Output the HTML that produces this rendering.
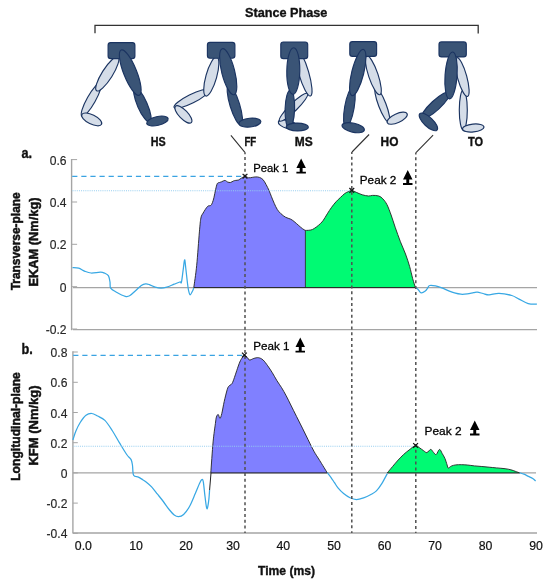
<!DOCTYPE html>
<html><head><meta charset="utf-8"><style>
html,body{margin:0;padding:0;background:#fff;}
body{width:550px;height:584px;overflow:hidden;}
svg{display:block;}
</style></head><body>
<svg width="550" height="584" viewBox="0 0 550 584">
<rect width="550" height="584" fill="#fff"/>
<path d="M95,33.3 L95,25.4 L478.2,25.4 L478.2,33.5" fill="none" stroke="#333" stroke-width="1.3"/>
<text x="245.1" y="17" font-family="Liberation Sans, sans-serif" font-weight="bold" font-size="12.8" textLength="82.3" lengthAdjust="spacingAndGlyphs" fill="#111" stroke="#111" stroke-width="0.35">Stance Phase</text>
<ellipse cx="91.25" cy="99.65" rx="19.10" ry="4.25" transform="rotate(119.32 91.25 99.65)" fill="#d5dde8" stroke="#1b3461" stroke-width="1.15"/>
<ellipse cx="91.7" cy="119.4" rx="11" ry="4.6" transform="rotate(26.5 91.7 119.4)" fill="#d5dde8" stroke="#1b3461" stroke-width="1.15"/>
<ellipse cx="107.30" cy="73.90" rx="20.00" ry="5.25" transform="rotate(122.34 107.30 73.90)" fill="#d5dde8" stroke="#1b3461" stroke-width="1.15"/>
<rect x="108.1" y="42.6" width="26.80000000000001" height="16.0" rx="2.6" fill="#3a5476" stroke="#1b3461" stroke-width="1.15"/>
<ellipse cx="142.40" cy="104.95" rx="18.72" ry="4.90" transform="rotate(66.38 142.40 104.95)" fill="#3a5476" stroke="#1b3461" stroke-width="1.15"/>
<ellipse cx="157.4" cy="121" rx="11" ry="4.4" transform="rotate(-13 157.4 121)" fill="#3a5476" stroke="#1b3461" stroke-width="1.15"/>
<ellipse cx="130.25" cy="72.60" rx="24.34" ry="6.50" transform="rotate(68.18 130.25 72.60)" fill="#3a5476" stroke="#1b3461" stroke-width="1.15"/>
<ellipse cx="191.30" cy="98.90" rx="19.23" ry="4.40" transform="rotate(153.43 191.30 98.90)" fill="#d5dde8" stroke="#1b3461" stroke-width="1.15"/>
<ellipse cx="183.4" cy="114.4" rx="11.4" ry="4.4" transform="rotate(46 183.4 114.4)" fill="#d5dde8" stroke="#1b3461" stroke-width="1.15"/>
<ellipse cx="211.30" cy="76.50" rx="20.26" ry="5.40" transform="rotate(105.75 211.30 76.50)" fill="#d5dde8" stroke="#1b3461" stroke-width="1.15"/>
<rect x="207.4" y="42.4" width="27.5" height="15.800000000000004" rx="2.6" fill="#3a5476" stroke="#1b3461" stroke-width="1.15"/>
<ellipse cx="234.85" cy="105.05" rx="20.78" ry="4.80" transform="rotate(72.79 234.85 105.05)" fill="#3a5476" stroke="#1b3461" stroke-width="1.15"/>
<ellipse cx="249.9" cy="122.6" rx="11" ry="4.4" transform="rotate(-6 249.9 122.6)" fill="#3a5476" stroke="#1b3461" stroke-width="1.15"/>
<ellipse cx="228.20" cy="71.70" rx="23.74" ry="6.50" transform="rotate(75.61 228.20 71.70)" fill="#3a5476" stroke="#1b3461" stroke-width="1.15"/>
<ellipse cx="288" cy="124.5" rx="10" ry="4" transform="rotate(15 288 124.5)" fill="#d5dde8" stroke="#1b3461" stroke-width="1.15"/>
<ellipse cx="293.50" cy="107.25" rx="19.62" ry="3.90" transform="rotate(135.52 293.50 107.25)" fill="#d5dde8" stroke="#1b3461" stroke-width="1.15"/>
<ellipse cx="303.75" cy="73.00" rx="23.97" ry="5.00" transform="rotate(73.64 303.75 73.00)" fill="#d5dde8" stroke="#1b3461" stroke-width="1.15"/>
<rect x="280.8" y="42" width="26.899999999999977" height="16.6" rx="2.6" fill="#3a5476" stroke="#1b3461" stroke-width="1.15"/>
<ellipse cx="289.85" cy="109.00" rx="19.01" ry="4.75" transform="rotate(91.66 289.85 109.00)" fill="#3a5476" stroke="#1b3461" stroke-width="1.15"/>
<ellipse cx="297.3" cy="127" rx="11" ry="3.9" transform="rotate(1 297.3 127)" fill="#3a5476" stroke="#1b3461" stroke-width="1.15"/>
<ellipse cx="293.30" cy="71.00" rx="23.30" ry="6.50" transform="rotate(90.98 293.30 71.00)" fill="#3a5476" stroke="#1b3461" stroke-width="1.15"/>
<ellipse cx="382.30" cy="104.85" rx="18.47" ry="3.75" transform="rotate(69.06 382.30 104.85)" fill="#d5dde8" stroke="#1b3461" stroke-width="1.15"/>
<ellipse cx="397.2" cy="118.2" rx="10.9" ry="4.4" transform="rotate(-24.4 397.2 118.2)" fill="#d5dde8" stroke="#1b3461" stroke-width="1.15"/>
<ellipse cx="373.35" cy="75.35" rx="20.43" ry="4.75" transform="rotate(71.30 373.35 75.35)" fill="#d5dde8" stroke="#1b3461" stroke-width="1.15"/>
<rect x="349.8" y="41.6" width="26.80000000000001" height="14.699999999999996" rx="2.6" fill="#3a5476" stroke="#1b3461" stroke-width="1.15"/>
<ellipse cx="349.40" cy="107.30" rx="20.21" ry="4.75" transform="rotate(99.98 349.40 107.30)" fill="#3a5476" stroke="#1b3461" stroke-width="1.15"/>
<ellipse cx="353.2" cy="127.7" rx="11.4" ry="4.5" transform="rotate(12.5 353.2 127.7)" fill="#3a5476" stroke="#1b3461" stroke-width="1.15"/>
<ellipse cx="357.75" cy="72.55" rx="23.76" ry="6.00" transform="rotate(104.01 357.75 72.55)" fill="#3a5476" stroke="#1b3461" stroke-width="1.15"/>
<ellipse cx="463.30" cy="110.00" rx="20.00" ry="4.00" transform="rotate(90.00 463.30 110.00)" fill="#d5dde8" stroke="#1b3461" stroke-width="1.15"/>
<ellipse cx="473.2" cy="128" rx="10.8" ry="3.9" transform="rotate(-6 473.2 128)" fill="#d5dde8" stroke="#1b3461" stroke-width="1.15"/>
<ellipse cx="462.15" cy="77.05" rx="20.08" ry="4.65" transform="rotate(74.54 462.15 77.05)" fill="#d5dde8" stroke="#1b3461" stroke-width="1.15"/>
<rect x="439" y="41.9" width="27.30000000000001" height="15.0" rx="2.6" fill="#3a5476" stroke="#1b3461" stroke-width="1.15"/>
<ellipse cx="435.65" cy="105.30" rx="19.28" ry="4.80" transform="rotate(137.21 435.65 105.30)" fill="#3a5476" stroke="#1b3461" stroke-width="1.15"/>
<ellipse cx="428.4" cy="121.9" rx="11.9" ry="4.6" transform="rotate(43.6 428.4 121.9)" fill="#3a5476" stroke="#1b3461" stroke-width="1.15"/>
<ellipse cx="451.05" cy="75.45" rx="23.51" ry="6.00" transform="rotate(94.02 451.05 75.45)" fill="#3a5476" stroke="#1b3461" stroke-width="1.15"/>
<text x="150.7" y="145.5" font-family="Liberation Sans, sans-serif" font-weight="bold" font-size="12" textLength="14.9" lengthAdjust="spacingAndGlyphs" fill="#111" stroke="#111" stroke-width="0.35">HS</text>
<text x="244.4" y="145.5" font-family="Liberation Sans, sans-serif" font-weight="bold" font-size="12" textLength="11.8" lengthAdjust="spacingAndGlyphs" fill="#111" stroke="#111" stroke-width="0.35">FF</text>
<text x="294.8" y="145.5" font-family="Liberation Sans, sans-serif" font-weight="bold" font-size="12" textLength="17.9" lengthAdjust="spacingAndGlyphs" fill="#111" stroke="#111" stroke-width="0.35">MS</text>
<text x="380.6" y="145.5" font-family="Liberation Sans, sans-serif" font-weight="bold" font-size="12" textLength="17.8" lengthAdjust="spacingAndGlyphs" fill="#111" stroke="#111" stroke-width="0.35">HO</text>
<text x="468" y="145.5" font-family="Liberation Sans, sans-serif" font-weight="bold" font-size="12" textLength="15.1" lengthAdjust="spacingAndGlyphs" fill="#111" stroke="#111" stroke-width="0.35">TO</text>
<path d="M230.9,135.3 L244.9,152.3 M369.1,134.5 L352,152 M433.1,135.1 L416,152.6" stroke="#333" stroke-width="1.1" fill="none"/>
<line x1="73" y1="287.6" x2="537" y2="287.6" stroke="#a5a5a5" stroke-width="1.4"/>
<line x1="73" y1="329.6" x2="537" y2="329.6" stroke="#a5a5a5" stroke-width="1.4"/>
<line x1="71.6" y1="159" x2="71.6" y2="330.2" stroke="#a5a5a5" stroke-width="1.4"/>
<line x1="71.6" y1="159.6" x2="77.1" y2="159.6" stroke="#a5a5a5" stroke-width="1"/>
<text x="66.5" y="164.6" text-anchor="end" font-family="Liberation Sans, sans-serif" font-size="12.1" fill="#262626" stroke="#262626" stroke-width="0.15">0.6</text>
<line x1="71.6" y1="202" x2="77.1" y2="202" stroke="#a5a5a5" stroke-width="1"/>
<text x="66.5" y="207.0" text-anchor="end" font-family="Liberation Sans, sans-serif" font-size="12.1" fill="#262626" stroke="#262626" stroke-width="0.15">0.4</text>
<line x1="71.6" y1="244.3" x2="77.1" y2="244.3" stroke="#a5a5a5" stroke-width="1"/>
<text x="66.5" y="249.3" text-anchor="end" font-family="Liberation Sans, sans-serif" font-size="12.1" fill="#262626" stroke="#262626" stroke-width="0.15">0.2</text>
<line x1="71.6" y1="286.7" x2="77.1" y2="286.7" stroke="#a5a5a5" stroke-width="1"/>
<text x="66.5" y="291.7" text-anchor="end" font-family="Liberation Sans, sans-serif" font-size="12.1" fill="#262626" stroke="#262626" stroke-width="0.15">0</text>
<line x1="71.6" y1="329" x2="77.1" y2="329" stroke="#a5a5a5" stroke-width="1"/>
<text x="66.5" y="334.0" text-anchor="end" font-family="Liberation Sans, sans-serif" font-size="12.1" fill="#262626" stroke="#262626" stroke-width="0.15">-0.2</text>
<line x1="73" y1="472.9" x2="536" y2="472.9" stroke="#a5a5a5" stroke-width="1.4"/>
<line x1="73" y1="533" x2="537" y2="533" stroke="#a5a5a5" stroke-width="1.4"/>
<line x1="72.9" y1="351.3" x2="72.9" y2="533.6" stroke="#a5a5a5" stroke-width="1.4"/>
<line x1="72.9" y1="352" x2="77.8" y2="352" stroke="#a5a5a5" stroke-width="1"/>
<text x="67.4" y="357.0" text-anchor="end" font-family="Liberation Sans, sans-serif" font-size="12.1" fill="#262626" stroke="#262626" stroke-width="0.15">0.8</text>
<line x1="72.9" y1="382.3" x2="77.8" y2="382.3" stroke="#a5a5a5" stroke-width="1"/>
<text x="67.4" y="387.3" text-anchor="end" font-family="Liberation Sans, sans-serif" font-size="12.1" fill="#262626" stroke="#262626" stroke-width="0.15">0.6</text>
<line x1="72.9" y1="412.5" x2="77.8" y2="412.5" stroke="#a5a5a5" stroke-width="1"/>
<text x="67.4" y="417.5" text-anchor="end" font-family="Liberation Sans, sans-serif" font-size="12.1" fill="#262626" stroke="#262626" stroke-width="0.15">0.4</text>
<line x1="72.9" y1="442.7" x2="77.8" y2="442.7" stroke="#a5a5a5" stroke-width="1"/>
<text x="67.4" y="447.7" text-anchor="end" font-family="Liberation Sans, sans-serif" font-size="12.1" fill="#262626" stroke="#262626" stroke-width="0.15">0.2</text>
<line x1="72.9" y1="472.9" x2="77.8" y2="472.9" stroke="#a5a5a5" stroke-width="1"/>
<text x="67.4" y="477.9" text-anchor="end" font-family="Liberation Sans, sans-serif" font-size="12.1" fill="#262626" stroke="#262626" stroke-width="0.15">0</text>
<line x1="72.9" y1="503.1" x2="77.8" y2="503.1" stroke="#a5a5a5" stroke-width="1"/>
<text x="67.4" y="508.1" text-anchor="end" font-family="Liberation Sans, sans-serif" font-size="12.1" fill="#262626" stroke="#262626" stroke-width="0.15">-0.2</text>
<line x1="72.9" y1="533.3" x2="77.8" y2="533.3" stroke="#a5a5a5" stroke-width="1"/>
<text x="67.4" y="538.3" text-anchor="end" font-family="Liberation Sans, sans-serif" font-size="12.1" fill="#262626" stroke="#262626" stroke-width="0.15">-0.4</text>
<text x="83.4" y="550.3" text-anchor="middle" font-family="Liberation Sans, sans-serif" font-size="12.3" fill="#111" stroke="#111" stroke-width="0.2">0.0</text>
<text x="136" y="550.3" text-anchor="middle" font-family="Liberation Sans, sans-serif" font-size="12.3" fill="#111" stroke="#111" stroke-width="0.2">10</text>
<text x="186" y="550.3" text-anchor="middle" font-family="Liberation Sans, sans-serif" font-size="12.3" fill="#111" stroke="#111" stroke-width="0.2">20</text>
<text x="233.1" y="550.3" text-anchor="middle" font-family="Liberation Sans, sans-serif" font-size="12.3" fill="#111" stroke="#111" stroke-width="0.2">30</text>
<text x="283.3" y="550.3" text-anchor="middle" font-family="Liberation Sans, sans-serif" font-size="12.3" fill="#111" stroke="#111" stroke-width="0.2">40</text>
<text x="334" y="550.3" text-anchor="middle" font-family="Liberation Sans, sans-serif" font-size="12.3" fill="#111" stroke="#111" stroke-width="0.2">50</text>
<text x="384.6" y="550.3" text-anchor="middle" font-family="Liberation Sans, sans-serif" font-size="12.3" fill="#111" stroke="#111" stroke-width="0.2">60</text>
<text x="435" y="550.3" text-anchor="middle" font-family="Liberation Sans, sans-serif" font-size="12.3" fill="#111" stroke="#111" stroke-width="0.2">70</text>
<text x="485.5" y="550.3" text-anchor="middle" font-family="Liberation Sans, sans-serif" font-size="12.3" fill="#111" stroke="#111" stroke-width="0.2">80</text>
<text x="536" y="550.3" text-anchor="middle" font-family="Liberation Sans, sans-serif" font-size="12.3" fill="#111" stroke="#111" stroke-width="0.2">90</text>
<text x="258" y="575" font-family="Liberation Sans, sans-serif" font-weight="bold" font-size="12" textLength="57" lengthAdjust="spacingAndGlyphs" fill="#111" stroke="#111" stroke-width="0.35">Time (ms)</text>
<text transform="translate(20.4,241.3) rotate(-90)" text-anchor="middle" font-family="Liberation Sans, sans-serif" font-weight="bold" font-size="12.6" textLength="98" lengthAdjust="spacingAndGlyphs" fill="#111" stroke="#111" stroke-width="0.5">Transverse-plane</text>
<text transform="translate(37.8,242) rotate(-90)" text-anchor="middle" font-family="Liberation Sans, sans-serif" font-weight="bold" font-size="13.2" textLength="89" lengthAdjust="spacingAndGlyphs" fill="#111" stroke="#111" stroke-width="0.5">EKAM (Nm/kg)</text>
<text transform="translate(20.4,426.5) rotate(-90)" text-anchor="middle" font-family="Liberation Sans, sans-serif" font-weight="bold" font-size="12.6" textLength="108.7" lengthAdjust="spacingAndGlyphs" fill="#111" stroke="#111" stroke-width="0.5">Longitudinal-plane</text>
<text transform="translate(37.8,425.5) rotate(-90)" text-anchor="middle" font-family="Liberation Sans, sans-serif" font-weight="bold" font-size="13.2" textLength="80" lengthAdjust="spacingAndGlyphs" fill="#111" stroke="#111" stroke-width="0.5">KFM (Nm/kg)</text>
<text x="21.4" y="158" font-family="Liberation Sans, sans-serif" font-weight="bold" font-size="14.8" textLength="10.6" lengthAdjust="spacingAndGlyphs" fill="#111" stroke="#111" stroke-width="0.35">a.</text>
<text x="21.4" y="354.2" font-family="Liberation Sans, sans-serif" font-weight="bold" font-size="14.8" textLength="11.3" lengthAdjust="spacingAndGlyphs" fill="#111" stroke="#111" stroke-width="0.35">b.</text>
<path d="M193.80,287.60 C194.28,283.88 195.77,274.58 196.70,265.30 C197.63,256.02 198.70,239.78 199.40,231.90 C200.10,224.02 200.28,221.13 200.90,218.00 C201.52,214.87 202.00,215.02 203.10,213.10 C204.20,211.18 206.23,207.77 207.50,206.50 C208.77,205.23 209.88,206.13 210.70,205.50 C211.52,204.87 211.85,204.07 212.40,202.70 C212.95,201.33 213.47,199.48 214.00,197.30 C214.53,195.12 215.05,191.88 215.60,189.60 C216.15,187.32 216.65,184.78 217.30,183.60 C217.95,182.42 218.78,182.80 219.50,182.50 C220.22,182.20 220.70,182.15 221.60,181.80 C222.50,181.45 223.90,180.37 224.90,180.40 C225.90,180.43 226.68,181.65 227.60,182.00 C228.52,182.35 229.40,182.68 230.40,182.50 C231.40,182.32 232.70,181.25 233.60,180.90 C234.50,180.55 234.98,180.55 235.80,180.40 C236.62,180.25 237.58,180.37 238.50,180.00 C239.42,179.63 240.20,178.82 241.30,178.20 C242.40,177.58 243.88,176.37 245.10,176.30 C246.32,176.23 247.42,177.62 248.60,177.80 C249.78,177.98 251.00,177.55 252.20,177.40 C253.40,177.25 254.60,176.90 255.80,176.90 C257.00,176.90 258.20,176.95 259.40,177.40 C260.60,177.85 261.90,178.43 263.00,179.60 C264.10,180.77 265.00,182.60 266.00,184.40 C267.00,186.20 268.12,188.42 269.00,190.40 C269.88,192.38 270.42,194.12 271.30,196.30 C272.18,198.48 273.30,201.30 274.30,203.50 C275.30,205.70 276.20,207.80 277.30,209.50 C278.40,211.20 279.50,212.40 280.90,213.70 C282.30,215.00 284.10,216.40 285.70,217.30 C287.30,218.20 289.10,218.40 290.50,219.10 C291.90,219.80 292.70,220.40 294.10,221.50 C295.50,222.60 297.50,224.50 298.90,225.70 C300.30,226.90 301.48,227.93 302.50,228.70 C303.52,229.47 304.58,230.03 305.00,230.30 L305,287.6 L193.8,287.6 Z" fill="#8080ff" stroke="none"/>
<path d="M193.80,287.60 C194.28,283.88 195.77,274.58 196.70,265.30 C197.63,256.02 198.70,239.78 199.40,231.90 C200.10,224.02 200.28,221.13 200.90,218.00 C201.52,214.87 202.00,215.02 203.10,213.10 C204.20,211.18 206.23,207.77 207.50,206.50 C208.77,205.23 209.88,206.13 210.70,205.50 C211.52,204.87 211.85,204.07 212.40,202.70 C212.95,201.33 213.47,199.48 214.00,197.30 C214.53,195.12 215.05,191.88 215.60,189.60 C216.15,187.32 216.65,184.78 217.30,183.60 C217.95,182.42 218.78,182.80 219.50,182.50 C220.22,182.20 220.70,182.15 221.60,181.80 C222.50,181.45 223.90,180.37 224.90,180.40 C225.90,180.43 226.68,181.65 227.60,182.00 C228.52,182.35 229.40,182.68 230.40,182.50 C231.40,182.32 232.70,181.25 233.60,180.90 C234.50,180.55 234.98,180.55 235.80,180.40 C236.62,180.25 237.58,180.37 238.50,180.00 C239.42,179.63 240.20,178.82 241.30,178.20 C242.40,177.58 243.88,176.37 245.10,176.30 C246.32,176.23 247.42,177.62 248.60,177.80 C249.78,177.98 251.00,177.55 252.20,177.40 C253.40,177.25 254.60,176.90 255.80,176.90 C257.00,176.90 258.20,176.95 259.40,177.40 C260.60,177.85 261.90,178.43 263.00,179.60 C264.10,180.77 265.00,182.60 266.00,184.40 C267.00,186.20 268.12,188.42 269.00,190.40 C269.88,192.38 270.42,194.12 271.30,196.30 C272.18,198.48 273.30,201.30 274.30,203.50 C275.30,205.70 276.20,207.80 277.30,209.50 C278.40,211.20 279.50,212.40 280.90,213.70 C282.30,215.00 284.10,216.40 285.70,217.30 C287.30,218.20 289.10,218.40 290.50,219.10 C291.90,219.80 292.70,220.40 294.10,221.50 C295.50,222.60 297.50,224.50 298.90,225.70 C300.30,226.90 301.48,227.93 302.50,228.70 C303.52,229.47 304.58,230.03 305.00,230.30" fill="none" stroke="#222" stroke-width="0.9" stroke-linejoin="round"/>
<path d="M305.00,230.30 C305.25,230.32 305.52,230.45 306.50,230.40 C307.48,230.35 309.62,230.32 310.90,230.00 C312.18,229.68 312.93,229.28 314.20,228.50 C315.47,227.72 317.05,226.57 318.50,225.30 C319.95,224.03 321.43,222.82 322.90,220.90 C324.37,218.98 325.85,216.07 327.30,213.80 C328.75,211.53 330.15,209.30 331.60,207.30 C333.05,205.30 334.53,203.43 336.00,201.80 C337.47,200.17 338.95,198.87 340.40,197.50 C341.85,196.13 343.43,194.55 344.70,193.60 C345.97,192.65 346.82,192.33 348.00,191.80 C349.18,191.27 350.43,190.32 351.80,190.40 C353.17,190.48 354.45,191.57 356.20,192.30 C357.95,193.03 360.25,194.18 362.30,194.80 C364.35,195.42 366.78,195.90 368.50,196.00 C370.22,196.10 370.88,195.40 372.60,195.40 C374.32,195.40 377.08,195.42 378.80,196.00 C380.52,196.58 381.53,197.45 382.90,198.90 C384.27,200.35 385.63,202.02 387.00,204.70 C388.37,207.38 389.73,211.23 391.10,215.00 C392.47,218.77 393.65,222.85 395.20,227.30 C396.75,231.75 398.68,237.25 400.40,241.70 C402.12,246.15 403.97,249.88 405.50,254.00 C407.03,258.12 408.40,262.28 409.60,266.40 C410.80,270.52 411.73,275.17 412.70,278.70 C413.67,282.23 414.95,286.12 415.40,287.60 L415.4,287.6 L305,287.6 Z" fill="#00fa73" stroke="none"/>
<path d="M305.00,230.30 C305.25,230.32 305.52,230.45 306.50,230.40 C307.48,230.35 309.62,230.32 310.90,230.00 C312.18,229.68 312.93,229.28 314.20,228.50 C315.47,227.72 317.05,226.57 318.50,225.30 C319.95,224.03 321.43,222.82 322.90,220.90 C324.37,218.98 325.85,216.07 327.30,213.80 C328.75,211.53 330.15,209.30 331.60,207.30 C333.05,205.30 334.53,203.43 336.00,201.80 C337.47,200.17 338.95,198.87 340.40,197.50 C341.85,196.13 343.43,194.55 344.70,193.60 C345.97,192.65 346.82,192.33 348.00,191.80 C349.18,191.27 350.43,190.32 351.80,190.40 C353.17,190.48 354.45,191.57 356.20,192.30 C357.95,193.03 360.25,194.18 362.30,194.80 C364.35,195.42 366.78,195.90 368.50,196.00 C370.22,196.10 370.88,195.40 372.60,195.40 C374.32,195.40 377.08,195.42 378.80,196.00 C380.52,196.58 381.53,197.45 382.90,198.90 C384.27,200.35 385.63,202.02 387.00,204.70 C388.37,207.38 389.73,211.23 391.10,215.00 C392.47,218.77 393.65,222.85 395.20,227.30 C396.75,231.75 398.68,237.25 400.40,241.70 C402.12,246.15 403.97,249.88 405.50,254.00 C407.03,258.12 408.40,262.28 409.60,266.40 C410.80,270.52 411.73,275.17 412.70,278.70 C413.67,282.23 414.95,286.12 415.40,287.60" fill="none" stroke="#222" stroke-width="0.9" stroke-linejoin="round"/>
<line x1="305.4" y1="230.3" x2="305.4" y2="287.6" stroke="#333" stroke-width="0.9"/>
<line x1="193.8" y1="287.6" x2="415.4" y2="287.6" stroke="#222" stroke-width="1"/>
<path d="M72.50,267.70 C73.53,267.78 76.70,267.63 78.70,268.20 C80.70,268.77 82.43,270.30 84.50,271.10 C86.57,271.90 88.43,272.83 91.10,273.00 C93.77,273.17 98.20,272.05 100.50,272.10 C102.80,272.15 103.57,272.67 104.90,273.30 C106.23,273.93 107.65,274.45 108.50,275.90 C109.35,277.35 109.63,279.97 110.00,282.00 C110.37,284.03 109.62,286.40 110.70,288.10 C111.78,289.80 114.07,290.83 116.50,292.20 C118.93,293.57 123.12,295.70 125.30,296.30 C127.48,296.90 127.90,296.73 129.60,295.80 C131.30,294.87 133.55,292.40 135.50,290.70 C137.45,289.00 139.62,286.73 141.30,285.60 C142.98,284.47 144.25,284.07 145.60,283.90 C146.95,283.73 147.80,284.07 149.40,284.60 C151.00,285.13 153.27,286.52 155.20,287.10 C157.13,287.68 159.07,288.10 161.00,288.10 C162.93,288.10 164.62,287.75 166.80,287.10 C168.98,286.45 171.92,285.05 174.10,284.20 C176.28,283.35 178.68,282.32 179.90,282.00 C181.12,281.68 180.87,284.23 181.40,282.30 C181.93,280.37 182.57,274.13 183.10,270.40 C183.63,266.67 184.17,260.38 184.60,259.90 C185.03,259.42 185.22,263.57 185.70,267.50 C186.18,271.43 187.02,279.63 187.50,283.50 C187.98,287.37 188.17,288.82 188.60,290.70 C189.03,292.58 189.48,294.67 190.10,294.80 C190.72,294.93 191.70,292.62 192.30,291.50 C192.90,290.38 193.47,288.67 193.70,288.10" fill="none" stroke="#38a8e4" stroke-width="1.25" stroke-linejoin="round"/>
<path d="M415.40,287.40 C415.88,287.78 417.33,288.78 418.30,289.70 C419.27,290.62 420.03,292.68 421.20,292.90 C422.37,293.12 424.20,291.85 425.30,291.00 C426.40,290.15 427.07,288.72 427.80,287.80 C428.53,286.88 428.42,285.82 429.70,285.50 C430.98,285.18 433.48,285.52 435.50,285.90 C437.52,286.28 439.68,287.02 441.80,287.80 C443.92,288.58 446.08,289.75 448.20,290.60 C450.32,291.45 452.38,292.30 454.50,292.90 C456.62,293.50 458.77,294.03 460.90,294.20 C463.03,294.37 465.18,294.15 467.30,293.90 C469.42,293.65 471.93,292.98 473.60,292.70 C475.27,292.42 475.73,292.07 477.30,292.20 C478.87,292.33 481.05,293.05 483.00,293.50 C484.95,293.95 486.33,294.93 489.00,294.90 C491.67,294.87 495.20,293.20 499.00,293.30 C502.80,293.40 508.47,294.53 511.80,295.50 C515.13,296.47 516.27,297.75 519.00,299.10 C521.73,300.45 525.22,302.75 528.20,303.60 C531.18,304.45 535.45,304.10 536.90,304.20" fill="none" stroke="#38a8e4" stroke-width="1.25" stroke-linejoin="round"/>
<path d="M210.80,472.90 C211.18,467.73 212.33,450.13 213.10,441.90 C213.87,433.67 214.85,427.63 215.40,423.50 C215.95,419.37 215.93,418.60 216.40,417.10 C216.87,415.60 217.60,414.30 218.20,414.50 C218.80,414.70 219.40,418.47 220.00,418.30 C220.60,418.13 221.10,416.28 221.80,413.50 C222.50,410.72 223.30,405.58 224.20,401.60 C225.10,397.62 226.40,392.20 227.20,389.60 C228.00,387.00 228.20,387.00 229.00,386.00 C229.80,385.00 231.10,385.00 232.00,383.60 C232.90,382.20 233.60,379.80 234.40,377.60 C235.20,375.40 235.90,373.00 236.80,370.40 C237.70,367.80 238.90,364.10 239.80,362.00 C240.70,359.90 241.43,358.90 242.20,357.80 C242.97,356.70 243.50,355.40 244.40,355.40 C245.30,355.40 246.80,357.03 247.60,357.80 C248.40,358.57 248.60,359.70 249.20,360.00 C249.80,360.30 250.42,359.87 251.20,359.60 C251.98,359.33 252.68,358.72 253.90,358.40 C255.12,358.08 256.97,357.43 258.50,357.70 C260.03,357.97 261.57,358.65 263.10,360.00 C264.63,361.35 266.17,363.68 267.70,365.80 C269.23,367.92 270.75,370.20 272.30,372.70 C273.85,375.20 275.45,378.30 277.00,380.80 C278.55,383.30 280.07,385.20 281.60,387.70 C283.13,390.20 284.67,392.92 286.20,395.80 C287.73,398.68 289.07,401.53 290.80,405.00 C292.53,408.47 294.67,412.75 296.60,416.60 C298.53,420.45 300.48,424.25 302.40,428.10 C304.32,431.95 306.18,435.85 308.10,439.70 C310.02,443.55 311.97,447.73 313.90,451.20 C315.83,454.67 317.47,456.88 319.70,460.50 C321.93,464.12 326.03,470.83 327.30,472.90 L327.3,472.9 L210.8,472.9 Z" fill="#8080ff" stroke="none"/>
<path d="M210.80,472.90 C211.18,467.73 212.33,450.13 213.10,441.90 C213.87,433.67 214.85,427.63 215.40,423.50 C215.95,419.37 215.93,418.60 216.40,417.10 C216.87,415.60 217.60,414.30 218.20,414.50 C218.80,414.70 219.40,418.47 220.00,418.30 C220.60,418.13 221.10,416.28 221.80,413.50 C222.50,410.72 223.30,405.58 224.20,401.60 C225.10,397.62 226.40,392.20 227.20,389.60 C228.00,387.00 228.20,387.00 229.00,386.00 C229.80,385.00 231.10,385.00 232.00,383.60 C232.90,382.20 233.60,379.80 234.40,377.60 C235.20,375.40 235.90,373.00 236.80,370.40 C237.70,367.80 238.90,364.10 239.80,362.00 C240.70,359.90 241.43,358.90 242.20,357.80 C242.97,356.70 243.50,355.40 244.40,355.40 C245.30,355.40 246.80,357.03 247.60,357.80 C248.40,358.57 248.60,359.70 249.20,360.00 C249.80,360.30 250.42,359.87 251.20,359.60 C251.98,359.33 252.68,358.72 253.90,358.40 C255.12,358.08 256.97,357.43 258.50,357.70 C260.03,357.97 261.57,358.65 263.10,360.00 C264.63,361.35 266.17,363.68 267.70,365.80 C269.23,367.92 270.75,370.20 272.30,372.70 C273.85,375.20 275.45,378.30 277.00,380.80 C278.55,383.30 280.07,385.20 281.60,387.70 C283.13,390.20 284.67,392.92 286.20,395.80 C287.73,398.68 289.07,401.53 290.80,405.00 C292.53,408.47 294.67,412.75 296.60,416.60 C298.53,420.45 300.48,424.25 302.40,428.10 C304.32,431.95 306.18,435.85 308.10,439.70 C310.02,443.55 311.97,447.73 313.90,451.20 C315.83,454.67 317.47,456.88 319.70,460.50 C321.93,464.12 326.03,470.83 327.30,472.90" fill="none" stroke="#222" stroke-width="0.9" stroke-linejoin="round"/>
<path d="M387.30,472.90 C388.20,471.82 390.88,468.55 392.70,466.40 C394.52,464.25 396.38,461.98 398.20,460.00 C400.02,458.02 401.78,456.17 403.60,454.50 C405.42,452.83 407.12,451.48 409.10,450.00 C411.08,448.52 413.72,445.93 415.50,445.60 C417.28,445.27 418.45,447.15 419.80,448.00 C421.15,448.85 422.42,449.93 423.60,450.70 C424.78,451.47 425.72,452.82 426.90,452.60 C428.08,452.38 429.60,449.43 430.70,449.40 C431.80,449.37 432.58,451.55 433.50,452.40 C434.42,453.25 435.20,455.00 436.20,454.50 C437.20,454.00 438.50,449.57 439.50,449.40 C440.50,449.23 441.30,452.00 442.20,453.50 C443.10,455.00 444.08,456.50 444.90,458.40 C445.72,460.30 446.55,463.30 447.10,464.90 C447.65,466.50 447.47,467.82 448.20,468.00 C448.93,468.18 450.23,466.52 451.50,466.00 C452.77,465.48 454.17,465.12 455.80,464.90 C457.43,464.68 459.38,464.68 461.30,464.70 C463.22,464.72 465.10,464.80 467.30,465.00 C469.50,465.20 472.08,465.65 474.50,465.90 C476.92,466.15 479.37,466.28 481.80,466.50 C484.23,466.72 486.67,466.97 489.10,467.20 C491.53,467.43 493.73,467.65 496.40,467.90 C499.07,468.15 502.68,468.38 505.10,468.70 C507.52,469.02 509.20,469.37 510.90,469.80 C512.60,470.23 513.85,470.78 515.30,471.30 C516.75,471.82 518.88,472.63 519.60,472.90 L519.6,472.9 L387.3,472.9 Z" fill="#00fa73" stroke="none"/>
<path d="M387.30,472.90 C388.20,471.82 390.88,468.55 392.70,466.40 C394.52,464.25 396.38,461.98 398.20,460.00 C400.02,458.02 401.78,456.17 403.60,454.50 C405.42,452.83 407.12,451.48 409.10,450.00 C411.08,448.52 413.72,445.93 415.50,445.60 C417.28,445.27 418.45,447.15 419.80,448.00 C421.15,448.85 422.42,449.93 423.60,450.70 C424.78,451.47 425.72,452.82 426.90,452.60 C428.08,452.38 429.60,449.43 430.70,449.40 C431.80,449.37 432.58,451.55 433.50,452.40 C434.42,453.25 435.20,455.00 436.20,454.50 C437.20,454.00 438.50,449.57 439.50,449.40 C440.50,449.23 441.30,452.00 442.20,453.50 C443.10,455.00 444.08,456.50 444.90,458.40 C445.72,460.30 446.55,463.30 447.10,464.90 C447.65,466.50 447.47,467.82 448.20,468.00 C448.93,468.18 450.23,466.52 451.50,466.00 C452.77,465.48 454.17,465.12 455.80,464.90 C457.43,464.68 459.38,464.68 461.30,464.70 C463.22,464.72 465.10,464.80 467.30,465.00 C469.50,465.20 472.08,465.65 474.50,465.90 C476.92,466.15 479.37,466.28 481.80,466.50 C484.23,466.72 486.67,466.97 489.10,467.20 C491.53,467.43 493.73,467.65 496.40,467.90 C499.07,468.15 502.68,468.38 505.10,468.70 C507.52,469.02 509.20,469.37 510.90,469.80 C512.60,470.23 513.85,470.78 515.30,471.30 C516.75,471.82 518.88,472.63 519.60,472.90" fill="none" stroke="#222" stroke-width="0.9" stroke-linejoin="round"/>
<line x1="210.8" y1="472.9" x2="327.3" y2="472.9" stroke="#222" stroke-width="1"/>
<line x1="387.3" y1="472.9" x2="519.6" y2="472.9" stroke="#222" stroke-width="1"/>
<path d="M72.90,440.00 C73.38,438.55 74.58,434.22 75.80,431.30 C77.02,428.38 78.50,425.17 80.20,422.50 C81.90,419.83 84.07,416.80 86.00,415.30 C87.93,413.80 89.87,413.38 91.80,413.50 C93.73,413.62 95.42,414.85 97.60,416.00 C99.78,417.15 102.47,417.98 104.90,420.40 C107.33,422.82 109.77,426.75 112.20,430.50 C114.63,434.25 117.08,438.90 119.50,442.90 C121.92,446.90 124.77,451.72 126.70,454.50 C128.63,457.28 130.13,457.77 131.10,459.60 C132.07,461.43 132.08,462.88 132.50,465.50 C132.92,468.12 132.62,473.37 133.60,475.30 C134.58,477.23 136.88,476.37 138.40,477.10 C139.92,477.83 141.47,478.92 142.70,479.70 C143.93,480.48 144.32,480.60 145.80,481.80 C147.28,483.00 149.65,484.83 151.60,486.90 C153.55,488.97 155.55,491.77 157.50,494.20 C159.45,496.63 161.37,498.95 163.30,501.50 C165.23,504.05 167.28,507.25 169.10,509.50 C170.92,511.75 172.63,513.80 174.20,515.00 C175.77,516.20 176.93,516.78 178.50,516.70 C180.07,516.62 181.77,516.20 183.60,514.50 C185.43,512.80 187.55,510.00 189.50,506.50 C191.45,503.00 193.62,497.37 195.30,493.50 C196.98,489.63 198.52,485.62 199.60,483.30 C200.68,480.98 201.18,479.85 201.80,479.60 C202.42,479.35 202.77,479.00 203.30,481.80 C203.83,484.60 204.40,491.92 205.00,496.40 C205.60,500.88 206.28,507.98 206.90,508.70 C207.52,509.42 208.25,503.82 208.70,500.70 C209.15,497.58 209.45,491.78 209.60,490.00" fill="none" stroke="#38a8e4" stroke-width="1.25" stroke-linejoin="round"/>
<path d="M327.30,472.70 C327.90,473.47 329.70,475.63 330.90,477.30 C332.10,478.97 333.28,480.88 334.50,482.70 C335.72,484.52 336.68,486.38 338.20,488.20 C339.72,490.02 341.63,492.00 343.60,493.60 C345.57,495.20 347.87,496.82 350.00,497.80 C352.13,498.78 354.13,499.50 356.40,499.50 C358.67,499.50 361.18,498.63 363.60,497.80 C366.02,496.97 368.77,495.65 370.90,494.50 C373.03,493.35 374.58,492.72 376.40,490.90 C378.22,489.08 379.98,486.48 381.80,483.60 C383.62,480.72 386.38,475.27 387.30,473.60" fill="none" stroke="#38a8e4" stroke-width="1.25" stroke-linejoin="round"/>
<path d="M519.60,472.70 C520.33,472.95 522.53,473.58 524.00,474.20 C525.47,474.82 526.95,475.68 528.40,476.40 C529.85,477.12 531.50,477.73 532.70,478.50 C533.90,479.27 535.12,480.58 535.60,481.00" fill="none" stroke="#38a8e4" stroke-width="1.25" stroke-linejoin="round"/>
<polyline points="209.6,490.0 210.5,479.0 211.0,472.9" fill="none" stroke="#222" stroke-width="1"/>
<line x1="72.2" y1="176.3" x2="245" y2="176.3" stroke="#3aa3e2" stroke-width="1.2" stroke-dasharray="5.2 3.9"/>
<line x1="72.5" y1="190.7" x2="352" y2="190.7" stroke="#95cdef" stroke-width="1.1" stroke-dasharray="1 1.14"/>
<line x1="73.2" y1="355.3" x2="244.4" y2="355.3" stroke="#3aa3e2" stroke-width="1.2" stroke-dasharray="5.2 3.9"/>
<line x1="73.5" y1="446.3" x2="415.6" y2="446.3" stroke="#95cdef" stroke-width="1.1" stroke-dasharray="1 1.14"/>
<line x1="245" y1="152.3" x2="245" y2="533" stroke="#505050" stroke-width="1.5" stroke-dasharray="3 2.85" stroke-dashoffset="1.1"/>
<line x1="351.8" y1="152" x2="351.8" y2="533" stroke="#505050" stroke-width="1.5" stroke-dasharray="3 2.85" stroke-dashoffset="1.1"/>
<line x1="415.8" y1="152.6" x2="415.8" y2="533" stroke="#505050" stroke-width="1.5" stroke-dasharray="3 2.85" stroke-dashoffset="1.1"/>
<path d="M242.6,173.79999999999998 L247.4,178.6 M242.6,178.6 L247.4,173.79999999999998" stroke="#111" stroke-width="1.2"/>
<path d="M349.40000000000003,188.0 L354.2,192.8 M349.40000000000003,192.8 L354.2,188.0" stroke="#111" stroke-width="1.2"/>
<path d="M242.0,352.6 L246.8,357.4 M242.0,357.4 L246.8,352.6" stroke="#111" stroke-width="1.2"/>
<path d="M413.20000000000005,443.1 L418.0,447.9 M413.20000000000005,447.9 L418.0,443.1" stroke="#111" stroke-width="1.2"/>
<text x="253.2" y="172.4" font-family="Liberation Sans, sans-serif" font-size="11.7" textLength="35.2" lengthAdjust="spacingAndGlyphs" fill="#000" stroke="#000" stroke-width="0.28">Peak 1</text>
<path d="M301.15,158.6 L305.9,168.0 L302.59999999999997,168.0 L302.59999999999997,171.7 L305.9,171.7 L305.9,173.6 L296.4,173.6 L296.4,171.7 L299.7,171.7 L299.7,168.0 L296.4,168.0 Z" fill="#000"/>
<text x="359.8" y="184.2" font-family="Liberation Sans, sans-serif" font-size="11.7" textLength="36.5" lengthAdjust="spacingAndGlyphs" fill="#000" stroke="#000" stroke-width="0.28">Peak 2</text>
<path d="M407.75,170 L412.5,179.4 L409.2,179.4 L409.2,183.1 L412.5,183.1 L412.5,185 L403,185 L403,183.1 L406.3,183.1 L406.3,179.4 L403,179.4 Z" fill="#000"/>
<text x="253.2" y="350.4" font-family="Liberation Sans, sans-serif" font-size="11.7" textLength="36.3" lengthAdjust="spacingAndGlyphs" fill="#000" stroke="#000" stroke-width="0.28">Peak 1</text>
<path d="M300.25,337.6 L305.0,347.0 L301.7,347.0 L301.7,350.70000000000005 L305.0,350.70000000000005 L305.0,352.6 L295.5,352.6 L295.5,350.70000000000005 L298.8,350.70000000000005 L298.8,347.0 L295.5,347.0 Z" fill="#000"/>
<text x="424.5" y="434.5" font-family="Liberation Sans, sans-serif" font-size="11.7" textLength="37" lengthAdjust="spacingAndGlyphs" fill="#000" stroke="#000" stroke-width="0.28">Peak 2</text>
<path d="M474.75,420.5 L479.5,429.9 L476.2,429.9 L476.2,433.6 L479.5,433.6 L479.5,435.5 L470,435.5 L470,433.6 L473.3,433.6 L473.3,429.9 L470,429.9 Z" fill="#000"/>
</svg>
</body></html>
